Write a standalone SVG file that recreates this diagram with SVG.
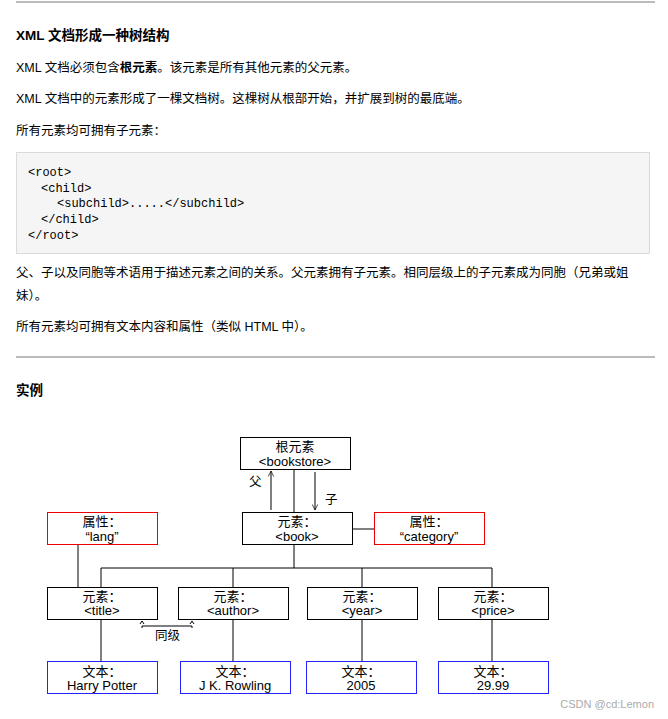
<svg xmlns="http://www.w3.org/2000/svg" width="668" height="719" viewBox="0 0 668 719">
<style>
text{font-family:"Liberation Sans","Noto Sans CJK SC",sans-serif;font-size:12.5px;fill:#000}
.h{font-weight:bold;font-size:13.5px}
.code{font-family:"Liberation Mono","Noto Sans CJK SC",monospace;font-size:12px}
.n rect{fill:#fff;stroke-width:1}
.n text{text-anchor:middle;font-size:13px}
.k{stroke:#000}
.r{stroke:#e00}
.b{stroke:#22f}
.c line,.c path{stroke:#000;stroke-width:1;fill:none}
</style>
<defs><marker id="ar" viewBox="0 0 10 10" refX="9" refY="5" markerWidth="7" markerHeight="7" orient="auto"><path d="M1,1 L9,5 L1,9" fill="none" stroke="#000"/></marker></defs>
<rect width="668" height="719" fill="#fff"/>
<line x1="16" y1="2" x2="655" y2="2" stroke="#bbb" stroke-width="2"/>
<text class="h" x="16" y="40">XML 文档形成一种树结构</text>
<text x="16" y="72">XML 文档必须包含<tspan font-weight="bold">根元素</tspan>。该元素是所有其他元素的父元素。</text>
<text x="16" y="103">XML 文档中的元素形成了一棵文档树。这棵树从根部开始，并扩展到树的最底端。</text>
<text x="16" y="135">所有元素均可拥有子元素：</text>
<rect x="16.5" y="152.5" width="633" height="101" fill="#f5f5f5" stroke="#bbb" stroke-dasharray="1,1"/>
<text class="code" x="28" y="176">&lt;root&gt;</text>
<text class="code" x="41" y="192">&lt;child&gt;</text>
<text class="code" x="57" y="207">&lt;subchild&gt;.....&lt;/subchild&gt;</text>
<text class="code" x="41" y="223">&lt;/child&gt;</text>
<text class="code" x="28" y="239">&lt;/root&gt;</text>
<text x="16" y="277">父、子以及同胞等术语用于描述元素之间的关系。父元素拥有子元素。相同层级上的子元素成为同胞（兄弟或姐</text>
<text x="16" y="300">妹）。</text>
<text x="16" y="331">所有元素均可拥有文本内容和属性（类似 HTML 中）。</text>
<line x1="16" y1="357" x2="655" y2="357" stroke="#bbb" stroke-width="2"/>
<text class="h" x="16" y="395">实例</text>

<g class="c" id="connectors">
<line x1="294" y1="469" x2="294" y2="512"/>
<line x1="271" y1="510" x2="271" y2="471" marker-end="url(#ar)"/>
<line x1="315" y1="472" x2="315" y2="510" marker-end="url(#ar)"/>
<line x1="352" y1="529" x2="374" y2="529"/>
<line x1="294" y1="544" x2="294" y2="568"/>
<line x1="101" y1="568" x2="492" y2="568"/>
<line x1="101" y1="568" x2="101" y2="587"/>
<line x1="233" y1="568" x2="233" y2="587"/>
<line x1="362" y1="568" x2="362" y2="587"/>
<line x1="492" y1="568" x2="492" y2="587"/>
<line x1="78" y1="544" x2="78" y2="587"/>
<line x1="101" y1="619" x2="101" y2="661"/>
<line x1="233" y1="619" x2="233" y2="661"/>
<line x1="362" y1="619" x2="362" y2="661"/>
<line x1="492" y1="619" x2="492" y2="661"/>
<path d="M142,628 L142,626 L192,626 L192,628"/>
<path d="M140,624 L142,621 L144,624 M190,624 L192,621 L194,624"/>
</g>
<text x="249" y="486">父</text>
<text x="325" y="504">子</text>
<text x="155" y="640">同级</text>

<g class="n" id="root"><rect class="k" x="240.5" y="437.5" width="110" height="32"/><text x="295" y="451">根元素</text><text x="295" y="466">&lt;bookstore&gt;</text></g>
<g class="n" id="book"><rect class="k" x="242.5" y="512.5" width="110" height="32"/><text x="297" y="526">元素：</text><text x="297" y="541">&lt;book&gt;</text></g>
<g class="n" id="lang"><rect class="r" x="47.5" y="512.5" width="110" height="32"/><text x="102" y="526">属性：</text><text x="102" y="541">“lang”</text></g>
<g class="n" id="category"><rect class="r" x="374.5" y="512.5" width="110" height="32"/><text x="429" y="526">属性：</text><text x="429" y="541">“category”</text></g>
<g class="n" id="title"><rect class="k" x="47.5" y="587.5" width="110" height="32"/><text x="102" y="601">元素：</text><text x="102" y="615">&lt;title&gt;</text></g>
<g class="n" id="author"><rect class="k" x="178.5" y="587.5" width="110" height="32"/><text x="233" y="601">元素：</text><text x="233" y="615">&lt;author&gt;</text></g>
<g class="n" id="year"><rect class="k" x="307.5" y="587.5" width="110" height="32"/><text x="362" y="601">元素：</text><text x="362" y="615">&lt;year&gt;</text></g>
<g class="n" id="price"><rect class="k" x="438.5" y="587.5" width="110" height="32"/><text x="493" y="601">元素：</text><text x="493" y="615">&lt;price&gt;</text></g>
<g class="n" id="t1"><rect class="b" x="47.5" y="661.5" width="110" height="32"/><text x="102" y="676">文本：</text><text x="102" y="690">Harry Potter</text></g>
<g class="n" id="t2"><rect class="b" x="180.5" y="661.5" width="110" height="32"/><text x="235" y="676">文本：</text><text x="235" y="690">J K. Rowling</text></g>
<g class="n" id="t3"><rect class="b" x="306.5" y="661.5" width="110" height="32"/><text x="361" y="676">文本：</text><text x="361" y="690">2005</text></g>
<g class="n" id="t4"><rect class="b" x="438.5" y="661.5" width="110" height="32"/><text x="493" y="676">文本：</text><text x="493" y="690">29.99</text></g>
<text x="654" y="708" style="fill:#aaa;font-size:11px;text-anchor:end">CSDN @cd:Lemon</text>
</svg>
